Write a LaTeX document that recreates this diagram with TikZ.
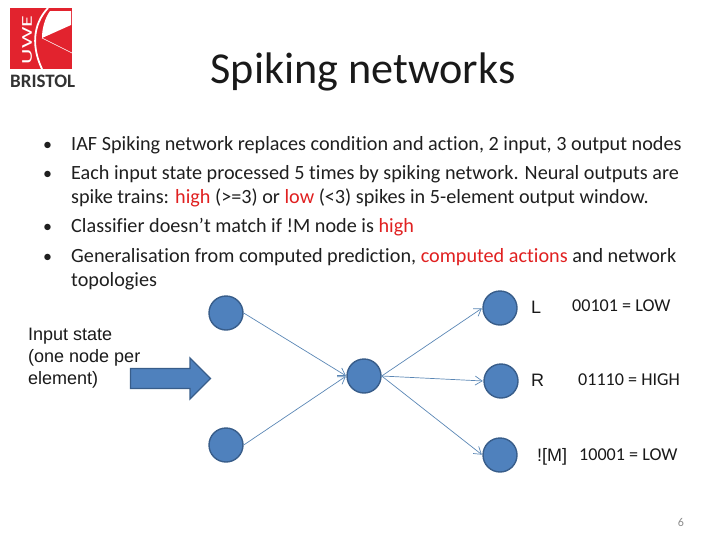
\documentclass[tikz,border=0pt]{standalone}
\usepackage{fontspec}
\setmainfont[Ligatures=NoCommon]{Carlito}
\newfontfamily\arialf{Liberation Sans}
\usetikzlibrary{arrows.meta}
\definecolor{nodefill}{HTML}{4F81BD}
\definecolor{nodeline}{HTML}{385D8A}
\definecolor{edgeblue}{HTML}{5B87B5}
\definecolor{logored}{HTML}{E2232E}
\definecolor{hot}{HTML}{E02020}
\definecolor{pagenum}{HTML}{8B8B8B}
\tikzset{
 x=1pt,y=-1pt,
 neuron/.style={circle,draw=nodeline,fill=nodefill,line width=1.4pt,minimum size=34pt,inner sep=0pt},
 link/.style={draw=edgeblue,line width=0.7pt,-{Straight Barb[length=7pt,width=9pt,line width=0.7pt]},shorten >=0.5pt},
 body/.style={anchor=base west,inner sep=0pt,font=\fontsize{20.2}{24}\selectfont,text=black!88},
 bullet/.style={anchor=base west,inner sep=0pt,font=\fontsize{18}{22}\selectfont,text=black!88},
 arial/.style={anchor=base west,inner sep=0pt,font=\arialf\fontsize{18}{22}\selectfont,text=black!90},
 code/.style={anchor=base west,inner sep=0pt,font=\fontsize{18.1}{22}\selectfont,text=black!90},
}
\begin{document}
\begin{tikzpicture}
\useasboundingbox (0,0) rectangle (728,546);
% logo
\fill[logored] (10,8) rectangle (72,69);
\draw[white,line width=1.8pt] (42,69) .. controls (32,48) and (32,25) .. (48,8);
\fill[white] (42,38) .. controls (42,28) and (45,18) .. (50,11) -- (71,11) -- (71,25) -- cycle;
\draw[white,line width=0.6pt] (42,38) -- (72,53);
\node[anchor=center,rotate=90,inner sep=0pt,text=white,font=\fontsize{15}{15}\selectfont,xscale=1.6] (uwe) at (27,40) {UWE};
\node[anchor=base west,inner sep=0pt,text=black!80,font=\bfseries\fontsize{19}{19}\selectfont] (bristol) at (10,87) {BRISTOL};
% title
\node[anchor=base,inner sep=0pt,font=\fontsize{44.2}{50}\selectfont,text=black!90] (title) at (363,83) {Spiking networks};
% bullets
\node[bullet] (b1) at (43,150) {•};
\node[body] (l1) at (71,150) {IAF Spiking network replaces condition and action, 2 input, 3 output nodes};
\node[bullet] (b2) at (43,179) {•};
\node[body] (l2) at (71,179) {Each input state processed 5 times by spiking network. Neural outputs are};
\node[body] (l3) at (71,203) {spike trains: \textcolor{hot}{high} (>=3) or \textcolor{hot}{low} (<3) spikes in 5-element output window.};
\node[bullet] (b3) at (43,232) {•};
\node[body] (l4) at (71,232) {Classifier doesn’t match if !M node is \textcolor{hot}{high}};
\node[bullet] (b4) at (43,262) {•};
\node[body] (l5) at (71,262) {Generalisation from computed prediction, \textcolor{hot}{computed actions} and network};
\node[body] (l6) at (71,286) {topologies};
% network
\node[neuron] (i1) at (226,313) {};
\node[neuron] (i2) at (226,445) {};
\node[neuron] (h) at (364,376) {};
\node[neuron] (oL) at (500,308) {};
\node[neuron] (oR) at (501,381) {};
\node[neuron] (oM) at (500,455) {};
\draw[link] (i1.east) -- (h.west);
\draw[link] (i2.east) -- (h.west);
\draw[link] (h.east) -- (oL.west);
\draw[link] (h.east) -- (oR.west);
\draw[link] (h.east) -- (oM.west);
% input arrow
\draw[draw=nodeline,fill=nodefill,line width=1.4pt,line join=miter] (130.5,368.5) -- (190,368.5) -- (190,358) -- (210.5,378.5) -- (190,399) -- (190,388.5) -- (130.5,388.5) -- cycle;
% labels
\node[arial] (in1) at (28,340) {Input state};
\node[arial] (in2) at (28,362) {(one node per};
\node[arial] (in3) at (28,384) {element)};
\node[arial] (lL) at (531,313) {L};
\node[arial] (lR) at (531,386) {R};
\node[arial] (lM) at (537,461) {![M]};
\node[code] (cL) at (572,311) {00101 = LOW};
\node[code] (cR) at (578,385) {01110 = HIGH};
\node[code] (cM) at (579,460) {10001 = LOW};
\node[anchor=base,inner sep=0pt,text=pagenum,font=\fontsize{12}{14}\selectfont] (page) at (681,526) {6};
\end{tikzpicture}
\end{document}
